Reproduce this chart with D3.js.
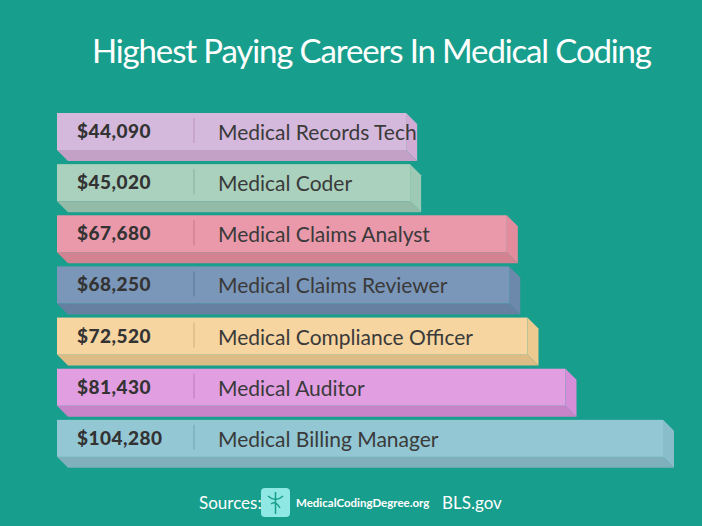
<!DOCTYPE html>
<html><head><meta charset="utf-8">
<script src="https://cdn.jsdelivr.net/npm/d3@7"></script>
<style>body{margin:0;background:#189e8c;}svg{display:block}</style>
</head><body>
<script>
const careers = ['Medical Records Tech','Medical Coder','Medical Claims Analyst','Medical Claims Reviewer','Medical Compliance Officer','Medical Auditor','Medical Billing Manager'];
const salaries = [44090, 45020, 67680, 68250, 72520, 81430, 104280];
const fronts = ['#d5b9dd','#a9d1bd','#e999aa','#7a97b9','#f6d5a0','#e19fe2','#93c7d3'];
const shades = ['#c3a1c7','#93bba8','#d38292','#6580a0','#ddbc86','#c784c9','#7fb0bb'];

const w = 702, h = 526, depth = 11, faceH = 37;

const svg = d3.select('body').append('svg').attr('width', w).attr('height', h);

svg.append('text').attr('x', 372).attr('y', 63).attr('text-anchor','middle')
   .attr('fill','#fff').attr('font-family','Lato').attr('font-size', 33)
   .attr('textLength', 560)
   .text('Highest Paying Careers In Medical Coding');

const x = d3.scaleLinear().domain([0, 104280]).range([218, 663]);
const y = d3.scaleBand().domain(careers).range([113, 471]).paddingInner(0);

const g = svg.selectAll('g.bar').data(careers).enter().append('g');

// bottom face
g.append('path').attr('fill', (d,i) => shades[i])
 .attr('d', (d,i) => {
   const t = y(d) + faceH, r = x(salaries[i]);
   return `M57,${t} L${r},${t} L${r+depth},${t+depth} L${57+depth},${t+depth} Z`;
 });
// right side face
g.append('path').attr('fill', (d,i) => d3.color(shades[i]).brighter(0.2))
 .attr('d', (d,i) => {
   const t = y(d), r = x(salaries[i]);
   return `M${r},${t} L${r+depth},${t+depth} L${r+depth},${t+faceH+depth} L${r},${t+faceH} Z`;
 });
// front face
g.append('rect').attr('x', 57).attr('y', d => y(d))
 .attr('width', (d,i) => x(salaries[i]) - 57).attr('height', faceH)
 .attr('fill', (d,i) => fronts[i]);

g.append('line').attr('x1', 194).attr('x2', 194)
 .attr('y1', d => y(d) + 5).attr('y2', d => y(d) + 30)
 .attr('stroke', (d,i) => shades[i]).attr('stroke-width', 1.5);

g.append('text').attr('x', 77).attr('y', d => y(d) + 25)
 .attr('font-family','Lato').attr('font-weight', 900).attr('font-size', 19)
 .attr('fill','#333').attr('letter-spacing', 0.5)
 .text((d,i) => d3.format('$,')(salaries[i]));

g.append('text').attr('x', 218).attr('y', d => y(d) + 27)
 .attr('font-family','Lato').attr('font-size', 21).attr('fill','#3a3a3a')
 .text(d => d);

// footer
svg.append('text').attr('x', 199).attr('y', 509).attr('fill','#fff')
   .attr('font-family','Lato').attr('font-size', 17).text('Sources:');
svg.append('rect').attr('x', 261).attr('y', 488).attr('width', 29).attr('height', 29)
   .attr('rx', 4).attr('fill', '#8fe8e4');
svg.append('path').attr('d','M275.5,492 L275.5,514 M268,496 Q275.5,503 283,496 M271,504 Q275.5,500 280,508')
   .attr('stroke','#189e8c').attr('stroke-width',1.5).attr('fill','none');
svg.append('text').attr('x', 296).attr('y', 507).attr('fill','#fff')
   .attr('font-family','Lato').attr('font-weight', 700).attr('font-size', 11.5)
   .text('MedicalCodingDegree.org');
svg.append('text').attr('x', 442).attr('y', 509).attr('fill','#fff')
   .attr('font-family','Lato').attr('font-size', 17).text('BLS.gov');
</script>
</body></html>
